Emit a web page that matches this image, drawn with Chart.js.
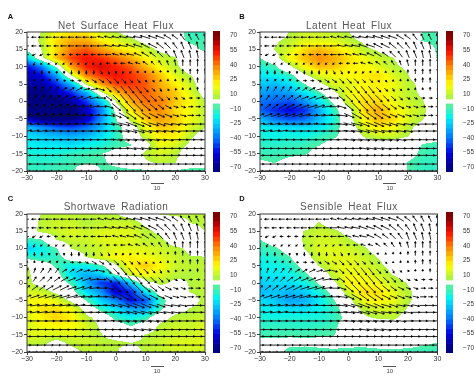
<!DOCTYPE html>
<html>
<head>
<meta charset="utf-8">
<title>Heat flux composites</title>
<script src="https://cdn.jsdelivr.net/npm/chart.js@4"></script>
<style>
  html, body { margin: 0; padding: 0; background: #fff; }
  #page { position: relative; width: 474px; height: 376px; overflow: hidden; font-family: "Liberation Sans", sans-serif; filter: blur(0.35px); }
  canvas { position: absolute; }
  .ttl { position: absolute; transform: translate(-50%, -50%); font-size: 10px; color: #555; letter-spacing: 0.55px; word-spacing: 2px; white-space: nowrap; }
  .tag { position: absolute; transform: translate(-50%, -50%); font-size: 7.5px; font-weight: bold; color: #111; }
  .key { position: absolute; transform: translate(-50%, -50%); font-size: 6px; color: #444; }
</style>
</head>
<body>
<div id="page"></div>
<script>
// grid of the shaded field
const fieldX = [-30, -25, -20, -15, -10, -5, 0, 5, 10, 15, 20, 25, 30];
const fieldY = [20, 17.5, 15, 12.5, 10, 7.5, 5, 2.5, 0, -2.5, -5, -7.5, -10, -12.5, -15, -17.5, -20];

const netFlux = [
  [0, 8, 18, 22, 22, 14, 8, 3, 0, 0, -2, -12, -12],
  [0, 10, 25, 32, 32, 22, 15, 10, 4, 0, -2, -10, -10],
  [-3, 8, 25, 40, 45, 35, 25, 20, 12, 5, 2, -3, -10],
  [-25, 5, 30, 48, 55, 50, 42, 32, 20, 12, 8, 0, 0],
  [-55, -38, -5, 35, 52, 58, 52, 45, 30, 18, 10, 0, 0],
  [-62, -55, -32, 10, 40, 50, 55, 50, 42, 28, 15, 8, 0],
  [-65, -65, -50, -28, 10, 35, 48, 50, 45, 32, 22, 12, 0],
  [-70, -70, -62, -50, -30, 5, 30, 42, 45, 35, 28, 15, 3],
  [-75, -78, -72, -65, -48, -25, 8, 32, 42, 40, 28, 20, 8],
  [-78, -80, -78, -72, -60, -38, -3, 22, 35, 38, 25, 18, 10],
  [-60, -72, -75, -72, -62, -35, -8, 12, 28, 35, 28, 18, 10],
  [-28, -35, -42, -45, -40, -28, -12, 0, 18, 28, 25, 15, 8],
  [-22, -25, -28, -30, -28, -22, -12, -2, 12, 22, 22, 10, 0],
  [-18, -20, -20, -22, -18, -15, -10, -8, 3, 18, 14, 5, 0],
  [-15, -16, -15, -12, -10, -8, -4, -2, 10, 14, 10, 0, 0],
  [-12, -13, -12, -10, -10, -9, -5, 0, 6, 10, 8, -2, -2],
  [-12, -12, -10, -10, 3, -8, -10, -10, -10, -10, -10, -10, -10]
];
const latentFlux = [
  [0, 0, 8, 12, 12, 10, 8, 0, 0, 0, 0, -8, -10],
  [0, 6, 10, 15, 15, 15, 10, 6, 0, 0, -2, -8, -10],
  [0, 8, 14, 25, 30, 25, 18, 10, 6, 0, 0, 0, -9],
  [-8, 2, 20, 30, 38, 32, 25, 18, 12, 8, 0, 0, -8],
  [-15, -10, 5, 20, 30, 28, 22, 20, 15, 10, 5, 0, -8],
  [-20, -18, -12, 5, 15, 18, 20, 22, 25, 15, 8, 0, 0],
  [-25, -28, -22, -8, 5, 15, 15, 20, 22, 18, 10, 5, 0],
  [-32, -35, -32, -20, -10, 5, 18, 22, 22, 16, 10, 6, 0],
  [-40, -42, -45, -35, -20, -5, 15, 25, 25, 18, 12, 8, 0],
  [-42, -50, -55, -50, -30, -12, 3, 25, 32, 22, 15, 10, 0],
  [-28, -40, -45, -42, -28, -15, 3, 20, 30, 25, 15, 8, 0],
  [-18, -20, -22, -22, -20, -12, 0, 15, 22, 20, 10, 3, 0],
  [-15, -17, -15, -17, -12, -9, -3, 8, 12, 12, 8, 0, 0],
  [-12, -13, -12, -11, -8, -3, 0, 3, 0, 0, -2, -8, -12],
  [-11, -11, -10, -9, -3, 0, 0, 0, 0, 0, -3, -10, -12],
  [-6, -8, -4, 0, 0, 0, 0, 0, 0, 0, -8, -12, -12],
  [0, 0, 0, 0, 0, 0, 0, 0, 0, 0, -8, -12, -12]
];
const shortwaveFlux = [
  [0, 8, 10, 10, 10, 10, 8, 3, 0, 8, 10, 10, 10],
  [0, 10, 12, 12, 8, 10, 12, 12, 5, 0, 0, 8, 10],
  [3, 10, 12, 15, 12, 15, 15, 15, 10, 5, 0, 0, 8],
  [-12, -8, 8, 12, 12, 15, 15, 15, 10, 10, 0, 0, 8],
  [-25, -18, -8, 8, 10, 12, 15, 15, 15, 12, 10, 5, 0],
  [-12, -15, -12, 0, 8, 15, 20, 22, 18, 15, 12, 8, 8],
  [8, 0, -10, -18, -18, -10, 6, 22, 28, 20, 12, 10, 10],
  [10, 0, -3, -22, -30, -25, -5, 15, 20, 15, 10, 8, 10],
  [10, 3, 0, -10, -30, -48, -52, -25, 3, 10, 5, 8, 10],
  [14, 12, 5, -3, -22, -35, -60, -50, -20, 0, 0, 8, 10],
  [18, 20, 15, 5, -8, -25, -38, -55, -45, -12, 0, 3, 10],
  [16, 24, 24, 18, 3, -12, -22, -32, -32, -10, 3, 8, 10],
  [14, 22, 26, 22, 10, 3, -12, -18, -12, 3, 10, 10, 12],
  [14, 18, 20, 20, 14, 6, 0, -8, 0, 10, 12, 12, 15],
  [15, 15, 14, 15, 12, 8, 3, 0, 8, 10, 12, 12, 15],
  [10, 10, 3, 10, 12, 10, 10, 8, 10, 12, 15, 15, 15],
  [0, 0, 0, 3, 10, 10, 8, 0, 10, 10, 12, 12, 12]
];
const sensibleFlux = [
  [0, 0, 0, 0, 0, 0, 0, 0, 0, 0, 0, 0, 0],
  [0, 0, 0, 0, 8, 0, 0, 0, 0, 0, 0, 0, 0],
  [0, 0, 0, 8, 12, 10, 3, 0, 0, 0, 0, 0, 0],
  [-8, -2, 0, 9, 13, 13, 9, 3, 0, 0, 0, 0, 0],
  [-12, -9, -3, 8, 14, 15, 13, 9, 3, 0, 0, 0, 0],
  [-16, -13, -8, 3, 13, 16, 15, 12, 7, 0, 0, 0, 0],
  [-18, -17, -14, -3, 8, 15, 17, 14, 10, 4, 0, 0, 0],
  [-20, -20, -18, -10, 0, 12, 18, 18, 13, 7, 3, 0, 0],
  [-25, -22, -22, -17, -6, 5, 22, 20, 18, 12, 7, 2, 0],
  [-28, -26, -28, -25, -15, -3, 14, 25, 24, 16, 9, 3, 0],
  [-22, -26, -32, -30, -20, -8, 5, 18, 22, 17, 9, 3, 0],
  [-18, -20, -22, -22, -18, -12, 0, 10, 14, 13, 7, 0, 0],
  [-15, -16, -15, -15, -15, -12, -4, 6, 9, 10, 3, 0, 0],
  [-12, -12, -12, -13, -12, -10, 0, 0, 0, 0, 0, 0, -6],
  [-10, -10, -9, -9, -9, -8, 0, 0, 0, 0, 0, 0, 0],
  [-3, -4, -4, -5, -4, -3, -3, -4, -2, 0, -2, -6, -8],
  [8, 0, -12, -12, -11, -10, -12, -12, -11, -11, -12, -12, -12]
];

// wind vectors, same in all four panels
const windX = [-30, -27.5, -25, -22.5, -20, -17.5, -15, -12.5, -10, -7.5, -5, -2.5, 0, 2.5, 5, 7.5, 10, 12.5, 15, 17.5, 20, 22.5, 25, 27.5, 30];
const windY = [18.5, 16, 13.5, 11, 8.5, 6, 3.5, 1, -1.5, -4, -6.5, -8.5, -11, -13.5, -15.5, -18, -20];
const windU = [
  [-3, -3, -4, -4, -4, -4, -4, -4, -4, -4, -4, -5, -5, -5, -6, -6, -7, -6, -6, -5, -4, -3, -2, -2, -1],
  [-3, -3, -3, -3, -3, -4, -4, -4, -4, -4, -5, -5, -5, -6, -6, -6, -6, -6, -5, -4, -3, -2, -2, -1, -1],
  [-3, -2, -2, -2, -2, -2, -2, -3, -3, -3, -4, -4, -4, -4, -5, -5, -5, -4, -4, -3, -2, -2, -1, -1, 0],
  [-1, -1, -1, -1, -1, -1, -1, -1, -1, -1, -1, -2, -2, -3, -3, -3, -3, -2, -2, -1, -1, 0, 0, 0, 0],
  [0, 0, 0, 0, 0, 0, 0, 0, 0, 0, 1, 1, 0, -1, -1, -1, -1, 0, 0, 0, 0, 0, 0, 0, 0],
  [0, 0, 1, 1, 1, 1, 2, 2, 2, 3, 3, 3, 3, 3, 2, 2, 1, 1, 0, 0, 0, 0, 0, 0, 1],
  [1, 1, 2, 2, 2, 3, 3, 4, 4, 5, 4, 3, 4, 4, 4, 4, 3, 2, 1, 1, 1, 0, 0, 0, 1],
  [2, 2, 3, 3, 4, 5, 5, 5, 6, 6, 6, 4, 5, 5, 5, 5, 5, 4, 3, 2, 2, 2, 2, 2, 2],
  [3, 4, 4, 5, 6, 6, 6, 7, 7, 7, 7, 6, 6, 6, 6, 6, 6, 5, 4, 4, 3, 3, 3, 3, 3],
  [5, 6, 6, 7, 7, 7, 8, 8, 8, 8, 8, 8, 7, 7, 7, 7, 6, 6, 5, 5, 4, 4, 4, 3, 3],
  [6, 6, 7, 7, 7, 8, 8, 8, 8, 8, 8, 8, 8, 8, 8, 8, 7, 7, 6, 6, 6, 5, 5, 5, 5],
  [6, 6, 7, 7, 7, 7, 7, 7, 8, 8, 8, 8, 8, 8, 8, 8, 8, 7, 7, 7, 6, 6, 6, 6, 6],
  [6, 6, 7, 7, 7, 7, 7, 7, 7, 7, 7, 8, 8, 8, 8, 8, 8, 8, 7, 7, 7, 7, 6, 6, 6],
  [6, 6, 6, 6, 6, 7, 7, 7, 7, 7, 7, 7, 7, 7, 7, 7, 7, 7, 7, 7, 7, 7, 7, 6, 6],
  [5, 6, 6, 6, 6, 6, 6, 6, 6, 6, 6, 6, 6, 6, 6, 6, 6, 6, 6, 6, 6, 6, 6, 6, 6],
  [5, 5, 5, 5, 5, 5, 5, 5, 5, 5, 5, 5, 5, 5, 5, 5, 5, 5, 5, 5, 5, 5, 5, 5, 5],
  [4, 4, 4, 4, 4, 4, 4, 4, 4, 4, 4, 4, 4, 4, 4, 4, 4, 4, 4, 4, 4, 4, 4, 4, 4]
];
const windV = [
  [0, 0, 0, 0, 0, 0, 0, 0, 0, 0, 1, 1, 1, 1, 1, 1, 2, 2, 2, 3, 3, 4, 4, 4, 4],
  [0, 0, 0, 0, 0, 0, 0, 0, 0, 0, 0, 1, 1, 1, 2, 2, 3, 3, 4, 4, 4, 5, 5, 5, 5],
  [0, -1, -1, 0, 0, 0, 0, 0, 0, 0, 0, 0, 1, 1, 1, 2, 3, 3, 4, 4, 5, 5, 5, 5, 5],
  [-2, -2, -1, -1, -1, -1, -1, -1, -1, -1, -1, 0, 0, 0, 1, 1, 2, 2, 3, 3, 4, 4, 4, 5, 5],
  [-2, -2, -2, -1, -1, -1, -2, -2, -2, -2, -2, -2, -1, -1, -1, 0, 0, 0, 1, 1, 2, 3, 3, 3, 4],
  [1, 1, 1, 1, 1, 0, 0, 0, -1, -2, -2, -3, -3, -3, -2, -2, -1, -1, 0, 1, 1, 2, 3, 3, 3],
  [3, 3, 3, 3, 3, 2, 2, 2, 1, 1, -1, -3, -4, -5, -5, -5, -3, -2, -2, -1, 0, 1, 1, 2, 1],
  [3, 3, 3, 3, 3, 3, 2, 2, 2, 1, 0, -3, -5, -6, -6, -6, -5, -4, -3, -2, -1, -1, 0, 0, 1],
  [3, 3, 3, 3, 3, 3, 2, 2, 2, 1, 0, -2, -5, -6, -6, -6, -5, -4, -3, -2, -1, -1, 0, 0, 0],
  [2, 2, 2, 2, 2, 2, 2, 1, 1, 1, 0, -1, -3, -4, -5, -5, -4, -3, -2, -2, -1, -1, 0, 0, 0],
  [1, 1, 1, 1, 1, 1, 1, 1, 0, 0, 0, -1, -2, -2, -3, -3, -3, -2, -2, -1, -1, -1, 0, 0, 0],
  [1, 1, 1, 1, 0, 0, 0, 0, 0, 0, 0, 0, -1, -1, -2, -2, -2, -1, -1, -1, -1, 0, 0, 0, 0],
  [0, 0, 0, 0, 0, 0, 0, 0, 0, 0, 0, 0, -1, -1, -1, -1, -1, -1, -1, -1, 0, 0, 0, 0, 0],
  [0, 0, 0, 0, 0, 0, 0, 0, 0, 0, 0, 0, 0, 0, -1, -1, -1, -1, 0, 0, 0, 0, 0, 0, 0],
  [0, 0, 0, 0, 0, 0, 0, 0, 0, 0, 0, 0, 0, 0, 0, 0, 0, 0, 0, 0, 0, 0, 0, 0, 0],
  [0, 0, 0, 0, 0, 0, 0, 0, 0, 0, 0, 0, 0, 0, 0, 0, 0, 0, 0, 0, 0, 0, 0, 0, 0],
  [0, 0, 0, 0, 0, 0, 0, 0, 0, 0, 0, 0, 0, 0, 0, 0, 0, 0, 0, 0, 0, 0, 0, 0, 0]
];

// axes and colour bar
const xTicks = [-30, -20, -10, 0, 10, 20, 30];
const yTicks = [-20, -15, -10, -5, 0, 5, 10, 15, 20];
const barLabels = [70, 55, 40, 25, 10, -10, -25, -40, -55, -70];
const barLevels = [75, 70, 65, 60, 55, 50, 45, 40, 35, 30, 25, 20, 15, 10, 5, -5, -10, -15, -20, -25, -30, -35, -40, -45, -50, -55, -60, -65, -70, -75];

// colour stops: value, r, g, b
const stopValues = [70, 62, 52, 40, 28, 20, 10, -10, -18, -25, -40, -55, -70];
const stopColors = [
  [125, 0, 0], [190, 0, 0], [255, 30, 0], [255, 125, 0], [255, 200, 0], [255, 255, 0], [190, 245, 50],
  [64, 240, 180], [0, 245, 240], [0, 205, 255], [0, 115, 255], [0, 0, 225], [0, 0, 130]
];

const panels = [
  { tag: 'A', title: 'Net Surface Heat Flux', field: netFlux, left: 0, top: 0, area: [27, 205, 32, 171], bar: [213, 220], barY: [31, 172], tagAt: [10.5, 15.5], titleAt: [116, 24.5] },
  { tag: 'B', title: 'Latent Heat Flux', field: latentFlux, left: 237, top: 0, area: [23, 200.5, 32, 171], bar: [446, 453], barY: [31, 172], tagAt: [242, 15.5], titleAt: [349, 24.5] },
  { tag: 'C', title: 'Shortwave Radiation', field: shortwaveFlux, left: 0, top: 188, area: [27, 205, 26, 164], bar: [213, 220], barY: [212, 353], tagAt: [10.5, 198], titleAt: [116, 205.5] },
  { tag: 'D', title: 'Sensible Heat Flux', field: sensibleFlux, left: 237, top: 188, area: [23, 200.5, 26, 164], bar: [446, 453], barY: [212, 353], tagAt: [242, 198], titleAt: [349, 205.5] }
];

const PXU = 1.3; // pixels per wind unit (the "10" key is 13px long)

function colorFor(v) {
  if (v >= stopValues[0]) return stopColors[0];
  const last = stopValues.length - 1;
  if (v <= stopValues[last]) return stopColors[last];
  for (let i = 0; i < last; i++) {
    if (v <= stopValues[i] && v >= stopValues[i + 1]) {
      const t = (stopValues[i] - v) / (stopValues[i] - stopValues[i + 1]);
      return stopColors[i].map((c, k) => Math.round(c + (stopColors[i + 1][k] - c) * t));
    }
  }
  return stopColors[last];
}

// value of the field at a map position, read between the four cells around it
function sampleField(rows, x, y) {
  const fx = Math.min(Math.max((x - fieldX[0]) / (fieldX[1] - fieldX[0]), 0), fieldX.length - 1.001);
  const fy = Math.min(Math.max((fieldY[0] - y) / (fieldY[0] - fieldY[1]), 0), fieldY.length - 1.001);
  const i = Math.floor(fx), j = Math.floor(fy);
  const a = fx - i, b = fy - j;
  return (rows[j][i] * (1 - a) + rows[j][i + 1] * a) * (1 - b) + (rows[j + 1][i] * (1 - a) + rows[j + 1][i + 1] * a) * b;
}

// shaded field, painted under the arrows
const heatField = {
  id: 'heatField',
  beforeDatasetsDraw(chart, args, opts) {
    const { ctx, chartArea: ca, scales } = chart;
    const left = Math.round(ca.left), top = Math.round(ca.top);
    const w = Math.round(ca.right) - left, h = Math.round(ca.bottom) - top;
    const img = ctx.createImageData(w, h);
    for (let py = 0; py < h; py++) {
      const y = scales.y.getValueForPixel(top + py + 0.5);
      for (let px = 0; px < w; px++) {
        const x = scales.x.getValueForPixel(left + px + 0.5);
        const v = sampleField(opts.rows, x, y);
        const c = Math.abs(v) < 7.5 ? [255, 255, 255] : colorFor(v);
        const o = (py * w + px) * 4;
        img.data[o] = c[0]; img.data[o + 1] = c[1]; img.data[o + 2] = c[2]; img.data[o + 3] = 255;
      }
    }
    ctx.putImageData(img, left, top);
  },
  afterDraw(chart) {
    const { ctx, chartArea: ca } = chart;
    ctx.save();
    ctx.strokeStyle = '#3c3c3c';
    ctx.lineWidth = 1;
    ctx.strokeRect(ca.left, ca.top, ca.right - ca.left, ca.bottom - ca.top);
    ctx.restore();
  }
};

// one line dataset with gaps: tail, tip, gap, tail, tip...
function buildArrows(pw, ph) {
  const pts = [], rot = [], rad = [];
  const kx = PXU * 60 / pw, ky = PXU * 40 / ph;
  windY.forEach((y, j) => {
    windX.forEach((x, i) => {
      const u = windU[j][i], v = windV[j][i];
      const dx = u * kx, dy = v * ky;
      const ang = Math.atan2(u, v) * 180 / Math.PI;
      pts.push({ x: x - dx / 2, y: y - dy / 2 }, { x: x + dx / 2, y: y + dy / 2 }, { x: NaN, y: NaN });
      rot.push(0, ang, 0);
      rad.push(0, 1.6, 0);
    });
  });
  return { pts, rot, rad };
}

function drawPanel(p) {
  const page = document.getElementById('page');
  const cv = document.createElement('canvas');
  cv.width = 237; cv.height = 188;
  cv.style.left = p.left + 'px'; cv.style.top = p.top + 'px';
  page.appendChild(cv);
  const [al, ar, at, ab] = p.area;
  const arrows = buildArrows(ar - al, ab - at);
  const tickFont = { family: '"Liberation Sans", sans-serif', size: 7 };

  new Chart(cv, {
    type: 'scatter',
    data: {
      datasets: [{
        data: arrows.pts,
        showLine: true,
        spanGaps: false,
        borderColor: '#111',
        borderWidth: 0.9,
        backgroundColor: '#000',
        pointBorderWidth: 0,
        pointStyle: 'triangle',
        pointRadius: arrows.rad,
        pointRotation: arrows.rot
      }]
    },
    options: {
      responsive: false,
      animation: false,
      layout: { padding: { left: 0, right: 237 - ar, top: at, bottom: 0 } },
      plugins: { legend: { display: false }, tooltip: { enabled: false }, heatField: { rows: p.field } },
      scales: {
        x: {
          type: 'linear', min: -30, max: 30,
          afterFit(s) { s.height = 188 - ab; },
          afterBuildTicks(s) { s.ticks = xTicks.map(v => ({ value: v })); },
          grid: { drawOnChartArea: false, tickLength: 3, color: '#3c3c3c' },
          border: { color: '#3c3c3c' },
          ticks: { font: tickFont, color: '#333', padding: 0, maxRotation: 0, autoSkip: false, callback: v => String(v).replace('-', '\u2212') }
        },
        y: {
          type: 'linear', min: -20, max: 20,
          afterFit(s) { s.width = al; },
          afterBuildTicks(s) { s.ticks = yTicks.map(v => ({ value: v })); },
          grid: { drawOnChartArea: false, tickLength: 3, color: '#3c3c3c' },
          border: { color: '#3c3c3c' },
          ticks: { font: tickFont, color: '#333', padding: 1, autoSkip: false, callback: v => String(v).replace('-', '\u2212') }
        }
      }
    },
    plugins: [heatField]
  });
}

// position of a level on the colour bar: labels are evenly spaced, not the values
function barPos(v) {
  return v > 0 ? (70 - v) / 15 : 5 + (-10 - v) / 15;
}

function drawColorBar(p) {
  const page = document.getElementById('page');
  const cv = document.createElement('canvas');
  const left = p.bar[0] - 8;
  cv.width = 36; cv.height = 188;
  cv.style.left = left + 'px'; cv.style.top = p.top + 'px';
  page.appendChild(cv);

  const datasets = [];
  for (let i = 0; i < barLevels.length - 1; i++) {
    const hi = barLevels[i], lo = barLevels[i + 1];
    if (hi > 0 && lo < 0) continue; // white gap around zero
    const c = colorFor((hi + lo) / 2);
    datasets.push({
      data: [[barPos(hi), barPos(lo)]],
      backgroundColor: 'rgb(' + c.join(',') + ')',
      borderWidth: 0,
      barPercentage: 1,
      categoryPercentage: 1,
      grouped: false
    });
  }

  new Chart(cv, {
    type: 'bar',
    data: { labels: [''], datasets: datasets },
    options: {
      responsive: false,
      animation: false,
      layout: { padding: { left: 8, right: 0, top: p.barY[0] - p.top, bottom: 188 - (p.barY[1] - p.top) } },
      plugins: { legend: { display: false }, tooltip: { enabled: false } },
      scales: {
        x: { display: false },
        y: {
          position: 'right', reverse: true, min: -0.32, max: 9.32,
          afterFit(s) { s.width = 21; },
          afterBuildTicks(s) { s.ticks = barLabels.map((v, i) => ({ value: i })); },
          grid: { display: false },
          border: { display: false },
          ticks: {
            font: { family: '"Liberation Sans", sans-serif', size: 6.5 }, color: '#333', padding: 2,
            callback: v => String(barLabels[v]).replace('-', '\u2212')
          }
        }
      }
    }
  });
}

function addText(cls, text, at) {
  const d = document.createElement('div');
  d.className = cls;
  d.textContent = text;
  d.style.left = at[0] + 'px';
  d.style.top = at[1] + 'px';
  document.getElementById('page').appendChild(d);
}

panels.forEach(p => {
  drawPanel(p);
  drawColorBar(p);
  addText('ttl', p.title, p.titleAt);
  addText('tag', p.tag, p.tagAt);
  // reference vector below the map
  const cx = p.left + (p.area[0] + p.area[1]) / 2 + 41;
  const cy = p.top + p.area[3] + (p.top ? 14 : 12);
  const key = document.createElement('div');
  key.style.cssText = 'position:absolute;left:' + (cx - 6.5) + 'px;top:' + cy + 'px;width:13px;height:0;border-top:1px solid #555';
  document.getElementById('page').appendChild(key);
  addText('key', '10', [cx, cy + 5]);
});
</script>
</body>
</html>
